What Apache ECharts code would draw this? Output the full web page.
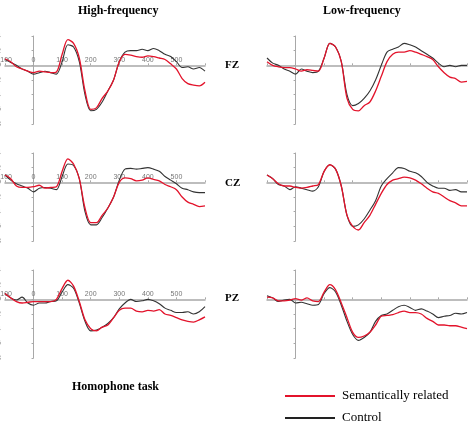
<!DOCTYPE html>
<html>
<head>
<meta charset="utf-8">
<script src="https://cdn.jsdelivr.net/npm/echarts@6/dist/echarts.min.js"></script>
<style>html,body{margin:0;padding:0;background:#fff}#chart{width:474px;height:430px}</style>
</head>
<body>
<div id="chart"></div>
<script>
// time points (ms), every 20 ms
const times = [-100,-80,-60,-40,-20,0,20,40,60,80,100,120,140,160,180,200,220,240,260,280,300,320,340,360,380,400,420,440,460,480,500,520,540,560,580,600];

const fzHighRelated = [-0.9,-0.5,0.2,0.5,0.8,1.0,0.8,0.9,1.0,0.9,-1.5,-3.5,-3.0,-1.0,3.5,6.0,5.8,4.5,3.5,2.0,-0.5,-1.5,-1.4,-1.2,-1.1,-1.3,-1.2,-1.0,-0.8,-0.2,0.5,1.8,2.5,2.7,2.8,2.3];
const fzHighControl = [-0.8,-0.4,0,0.5,0.8,1.2,1.0,0.8,1.0,1.2,-0.5,-2.8,-2.5,-0.5,4.0,6.2,6.0,5.0,3.5,2.0,-0.5,-1.8,-2.0,-2.0,-2.2,-2.0,-2.3,-2.0,-1.5,-1.2,-0.5,0.3,0.2,0.5,0.3,0.8];
const fzLowRelated = [-0.5,0,0.2,0.3,0.3,0.5,0.8,0.6,0.7,0.8,-1.0,-3.0,-2.5,-0.5,4.5,6.0,6.2,5.5,5.0,3.5,1.5,-0.5,-1.5,-1.8,-1.8,-2.0,-1.8,-1.5,-1.2,-0.8,0.2,1.0,1.6,1.8,2.3,2.2];
const fzLowControl = [-1.0,-0.3,0,0.5,0.8,1.2,0.5,0.8,1.0,0.8,-1.0,-3.0,-2.5,-0.5,4.0,5.5,5.2,4.5,3.5,2.0,0,-1.8,-2.2,-2.5,-3.0,-2.8,-2.5,-2.0,-1.5,-1.0,-0.3,0.2,0,0.2,0,0];
const czHighRelated = [-1.0,-0.5,0.5,0.7,0.7,0.6,0.4,0.8,0.7,0.6,-1.5,-3.2,-2.5,-0.5,3.5,5.5,5.5,4.5,3.5,2.0,0,-0.6,-0.5,-0.2,-0.3,-0.6,-0.4,-0.2,0.3,0.6,1.0,2.0,2.7,3.0,3.3,3.2];
const czHighControl = [-1.0,-0.3,0.2,0.5,0.8,1.3,0.8,0.7,0.8,1.0,-0.8,-2.5,-2.3,-0.5,4.0,5.8,5.8,4.8,3.5,2.0,-0.3,-1.8,-1.9,-1.8,-1.9,-2.0,-1.8,-1.5,-0.8,-0.3,0.2,0.8,1.0,1.3,1.4,1.4];
const czLowRelated = [-1.0,-0.5,0.2,0.5,0.5,0.7,0.8,0.7,0.5,0.3,-1.5,-2.4,-1.8,0.5,4.5,6.0,6.5,5.5,4.5,3.0,1.5,0.3,-0.3,-0.5,-0.7,-0.6,-0.3,0.2,0.8,1.3,1.5,2.0,2.5,2.8,3.2,3.2];
const czLowControl = [-1.0,-0.5,0.3,0.5,1.0,0.6,0.8,1.0,1.2,0.6,-1.5,-2.4,-1.8,0.5,4.5,6.0,5.8,5.0,3.8,2.5,0.5,-0.5,-1.3,-2.0,-1.9,-1.5,-1.3,-0.8,0,0.5,0.8,0.8,1.1,1.0,1.3,1.3];
const pzHighRelated = [-0.8,-0.2,0.3,0.5,0.4,0.3,0.3,0.3,0.3,0,-1.5,-2.6,-1.8,0.3,2.8,4.0,4.3,3.8,3.5,2.5,1.5,1.2,1.2,1.6,1.7,1.5,1.6,1.4,2.0,2.2,2.5,2.8,3.0,3.1,2.8,2.4];
const pzHighControl = [-0.8,-0.2,0.1,-0.3,0.5,0.8,0.5,0.5,0.3,0.2,-1.0,-2.0,-1.5,0.5,3.0,4.3,4.2,3.8,3.3,2.5,1.3,0.5,0,0.3,0.2,0,0.2,0.6,1.2,1.5,1.8,1.8,1.7,2.0,1.7,1.0];
const pzLowRelated = [-0.3,-0.2,0.2,0.2,0.1,-0.1,0.1,-0.2,0.2,0.3,-1.0,-2.0,-1.3,0.5,2.5,4.5,5.2,5.0,4.5,3.5,2.3,2.2,2.1,1.8,1.6,1.8,1.8,2.0,2.6,3.0,3.5,3.5,3.6,3.6,3.8,4.0];
const pzLowControl = [-0.5,-0.2,0.3,0.1,0,0.5,0.4,0.6,0.8,0.7,-0.8,-1.6,-1.0,0.8,3.0,4.8,5.6,5.2,4.5,3.0,2.2,2.0,1.5,1.0,0.8,1.1,1.5,1.3,1.6,2.0,2.5,2.3,2.2,1.9,2.0,1.8];

const columnTitles = ['High-frequency', 'Low-frequency'];
const channels = ['FZ', 'CZ', 'PZ'];
const seriesNames = ['Semantically related', 'Control'];

const panels = [
    [fzHighRelated, fzHighControl], [fzLowRelated, fzLowControl],
    [czHighRelated, czHighControl], [czLowRelated, czLowControl],
    [pzHighRelated, pzHighControl], [pzLowRelated, pzLowControl]
];

const serif = 'Liberation Serif, Times New Roman, serif';
const axisGray = '#a8a8a8';
const rowTops = [36, 153, 270];
const colLefts = [5, 267];
const gridH = 88;
const zeroOffset = gridH * 4 / 12; // distance of the 0 µV line below the grid top

const grids = [], xAxes = [], yAxes = [], series = [];
panels.forEach((pair, i) => {
    const row = Math.floor(i / 2), col = i % 2;
    const showLabels = col === 0;
    grids.push({ left: colLefts[col], top: rowTops[row], width: 200, height: gridH, outerBoundsMode: 'none', containLabel: false });
    xAxes.push({
        type: 'value', gridIndex: i, min: -100, max: 600, interval: 100,
        axisLine: { onZero: true, lineStyle: { color: axisGray, width: 1.5 } },
        axisTick: { show: true, length: 2, inside: true, lineStyle: { color: axisGray } },
        axisLabel: { show: false },
        splitLine: { show: false }
    });
    yAxes.push({
        type: 'value', gridIndex: i, min: -4, max: 8, interval: 2, inverse: true,
        axisLine: { show: true, onZero: true, lineStyle: { color: axisGray } },
        axisTick: { show: true, length: 2, lineStyle: { color: axisGray } },
        axisLabel: { show: showLabels, color: '#777', fontSize: 7, margin: 4 },
        splitLine: { show: false }
    });
    pair.forEach((vals, k) => {
        series.push({
            name: seriesNames[k], type: 'line', xAxisIndex: i, yAxisIndex: i,
            data: times.map((t, j) => [t, vals[j]]),
            smooth: 0.3, showSymbol: false, z: k === 0 ? 3 : 2,
            lineStyle: { color: k === 0 ? '#e3132b' : '#333333', width: k === 0 ? 1.3 : 1.1 }
        });
    });
});
// time labels sitting just above the zero line of the left panels
[0, 2, 4].forEach(gi => {
    xAxes.push({
        type: 'value', gridIndex: gi, position: 'top', offset: -zeroOffset,
        min: -100, max: 600, interval: 100,
        axisLine: { show: false }, axisTick: { show: false }, splitLine: { show: false },
        axisLabel: { color: '#777', fontSize: 7, margin: 2, formatter: v => (v === 600 ? '' : v) }
    });
});

const graphics = [
    { type: 'text', left: 78, top: 5, style: { text: columnTitles[0], font: 'bold 12px ' + serif, fill: '#000' } },
    { type: 'text', left: 323, top: 5, style: { text: columnTitles[1], font: 'bold 12px ' + serif, fill: '#000' } },
    { type: 'text', left: 72, top: 381, style: { text: 'Homophone task', font: 'bold 12px ' + serif, fill: '#000' } },
    { type: 'line', shape: { x1: 285, y1: 396, x2: 335, y2: 396 }, style: { stroke: '#e3132b', lineWidth: 2 } },
    { type: 'text', left: 342, top: 389, style: { text: seriesNames[0], font: '13px ' + serif, fill: '#000' } },
    { type: 'line', shape: { x1: 285, y1: 418, x2: 335, y2: 418 }, style: { stroke: '#222', lineWidth: 2 } },
    { type: 'text', left: 342, top: 411, style: { text: seriesNames[1], font: '13px ' + serif, fill: '#000' } }
];
[66, 184, 299].forEach((y, r) => {
    graphics.push({ type: 'text', left: 225, top: y - 6, style: { text: channels[r], font: 'bold 11px ' + serif, fill: '#000' } });
});

const chart = echarts.init(document.getElementById('chart'));
chart.setOption({
    backgroundColor: '#fff',
    animation: false,
    grid: grids, xAxis: xAxes, yAxis: yAxes, series: series,
    graphic: graphics
});
</script>
</body>
</html>
